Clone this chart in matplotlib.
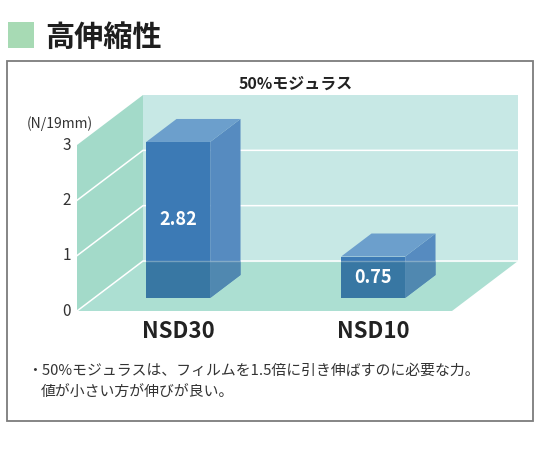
import matplotlib
matplotlib.use("Agg")
import matplotlib.pyplot as plt
from matplotlib.patches import Polygon, Rectangle

plt.rcParams['font.family'] = ['Noto Sans CJK JP', 'DejaVu Sans']

# ---- data ----
categories = ['NSD30', 'NSD10']
values = [2.82, 0.75]
value_labels = ['2.82', '0.75']
yticks = [0, 1, 2, 3]
ytick_labels = ['0', '1', '2', '3']
unit_label = '(N/19mm)'
chart_title = '50%モジュラス'
section_title = '高伸縮性'
note_line1 = '・50%モジュラスは、フィルムを1.5倍に引き伸ばすのに必要な力。'
note_line2 = '値が小さい方が伸びが良い。'

# ---- layout (pixels) ----
W, H = 540, 450
PX0 = 161.0        # px of category 0 on front plane
PX_CAT = 195.0     # px per category
PY0 = 311.0        # px of value 0 on front plane
PX_UNIT = 55.33    # px per value unit

fig = plt.figure(figsize=(W / 100, H / 100), dpi=100)
ax = fig.add_axes([0, 0, 1, 1])
ax.set_xlim(-PX0 / PX_CAT, (W - PX0) / PX_CAT)
ax.set_ylim((PY0 - H) / PX_UNIT, PY0 / PX_UNIT)
ax.axis('off')

def fx(px):
    return px / W

def fy(py):
    return 1 - py / H

# depth vector in data units
DX = 66 / PX_CAT
DY = 50 / PX_UNIT
ymax = yticks[-1]
x0 = (77 - PX0) / PX_CAT
x1 = (452 - PX0) / PX_CAT

# frame
fig.add_artist(Rectangle((fx(7), fy(421)), fx(533) - fx(7), fy(61) - fy(421),
                         transform=fig.transFigure, fill=False,
                         edgecolor='#7c7c7c', lw=1.3))
# section title
fig.add_artist(Rectangle((fx(8), fy(48)), fx(34) - fx(8), fy(22) - fy(48),
                         transform=fig.transFigure, facecolor='#a7dab4',
                         edgecolor='none'))
fig.text(fx(45), fy(37), section_title, fontsize=21, fontweight='bold',
         color='#1e1e1e', ha='left', va='center')

# chart title
fig.text(fx(296), fy(84), chart_title, fontsize=11.5, fontweight='bold',
         color='#222222', ha='center', va='center')
fig.text(fx(60), fy(124), unit_label, fontsize=10, color='#333333',
         ha='center', va='center')

# walls
back_c = '#c7e8e5'
left_c = '#a3dac9'
floor_c = '#acdfd2'
ax.add_patch(Polygon([(x0 + DX, DY), (x1 + DX, DY), (x1 + DX, ymax + DY),
                      (x0 + DX, ymax + DY)], closed=True, facecolor=back_c,
                     edgecolor='none', zorder=1))
ax.add_patch(Polygon([(x0, 0), (x0, ymax), (x0 + DX, ymax + DY), (x0 + DX, DY)],
                     closed=True, facecolor=left_c, edgecolor='none', zorder=1))
floor_poly = Polygon([(x0, 0), (x1, 0), (x1 + DX, DY), (x0 + DX, DY)],
                     closed=True, facecolor=floor_c, edgecolor='none', zorder=1)
ax.add_patch(floor_poly)

# grid lines
for v in yticks[:-1]:
    ax.plot([x0, x0 + DX, x1 + DX], [v, v + DY, v + DY], color='white',
            lw=1.1, zorder=2, solid_joinstyle='miter')

# tick labels
for v, t in zip(yticks, ytick_labels):
    ax.text(x0 - 10 / PX_CAT, v, t, fontsize=11, color='#333333',
            ha='center', va='center')

# bars
w = 64 / PX_CAT
d0, d1 = 0.26, 0.72
front_c, top_c, side_c = '#3c7ab5', '#6c9fcc', '#568bc0'
front_lo, side_lo = '#3877a3', '#5088b0'
for i, (v, lab, cat) in enumerate(zip(values, value_labels, categories)):
    fl = i - w / 2 + d0 * DX
    fr = i + w / 2 + d0 * DX
    fb = d0 * DY
    ft = v + d0 * DY
    bdx = (d1 - d0) * DX
    bdy = (d1 - d0) * DY
    front = [(fl, fb), (fr, fb), (fr, ft), (fl, ft)]
    side = [(fr, fb), (fr + bdx, fb + bdy), (fr + bdx, ft + bdy), (fr, ft)]
    top = [(fl, ft), (fr, ft), (fr + bdx, ft + bdy), (fl + bdx, ft + bdy)]
    ax.add_patch(Polygon(front, closed=True, facecolor=front_c, edgecolor='none', zorder=3))
    ax.add_patch(Polygon(side, closed=True, facecolor=side_c, edgecolor='none', zorder=3))
    ax.add_patch(Polygon(top, closed=True, facecolor=top_c, edgecolor='none', zorder=3))
    # part of bar inside the translucent floor
    for pts, c in ((front, front_lo), (side, side_lo)):
        p = Polygon(pts, closed=True, facecolor=c, edgecolor='none', zorder=4)
        ax.add_patch(p)
        p.set_clip_path(floor_poly)
    ax.text(i + d0 * DX, (fb + ft) / 2, lab, fontsize=13, fontweight='bold',
            color='white', ha='center', va='center', zorder=6)
    ax.text(i + d0 * DX, (332 - PY0) / -PX_UNIT, cat, fontsize=16,
            fontweight='bold', color='#222222', ha='center', va='center')

# faint floor back edge seen through bars
ax.plot([x0 + DX, x1 + DX], [DY, DY], color='white', lw=1.0, alpha=0.3, zorder=5)

# notes
fig.text(fx(27), fy(371), note_line1, fontsize=10.7, color='#333333',
         ha='left', va='center')
fig.text(fx(41), fy(393), note_line2, fontsize=10.7, color='#333333',
         ha='left', va='center')

fig.savefig('out.png', dpi=100)
